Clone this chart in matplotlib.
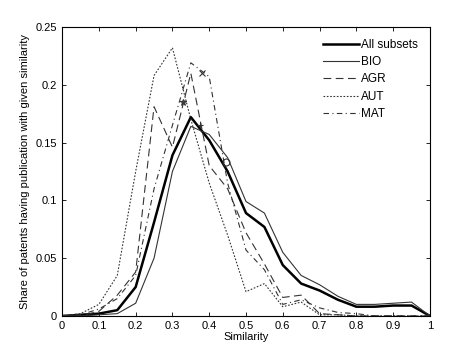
import matplotlib.pyplot as plt
import numpy as np

plt.rcParams['font.family'] = ['Liberation Sans', 'DejaVu Sans']

similarity = np.arange(0, 1.0001, 0.05)

all_subsets = [0, 0.001, 0.002, 0.005, 0.025, 0.081, 0.139, 0.172, 0.152, 0.125, 0.089,
               0.077, 0.044, 0.028, 0.022, 0.014, 0.008, 0.008, 0.009, 0.009, 0]
bio = [0, 0, 0.001, 0.002, 0.011, 0.05, 0.125, 0.164, 0.157, 0.137, 0.099,
       0.089, 0.055, 0.035, 0.027, 0.017, 0.01, 0.01, 0.011, 0.012, 0]
agr = [0, 0, 0.004, 0.018, 0.038, 0.181, 0.146, 0.21, 0.13, 0.11, 0.072,
       0.045, 0.016, 0.018, 0.002, 0.001, 0, 0, 0, 0, 0]
aut = [0, 0.002, 0.01, 0.035, 0.125, 0.208, 0.232, 0.17, 0.115, 0.07, 0.021,
       0.028, 0.008, 0.012, 0.001, 0.001, 0, 0, 0, 0, 0]
mat = [0, 0.001, 0.006, 0.015, 0.035, 0.11, 0.165, 0.219, 0.207, 0.115, 0.057,
       0.04, 0.01, 0.014, 0.007, 0.003, 0.002, 0, 0, 0, 0]

# mean markers
mean_x = [0.33, 0.38, 0.375, 0.446]
mean_y = [0.185, 0.21, 0.165, 0.133]
mean_mk = ['*', 'x', '+', 'o']

fig = plt.figure(figsize=(4.74, 3.55), dpi=100)
ax = fig.add_axes([0.131, 0.110, 0.776, 0.814])

ax.plot(similarity, all_subsets, color='black', lw=1.8, label='All subsets')
ax.plot(similarity, bio, color='#333333', lw=0.8, label='BIO')
ax.plot(similarity, agr, color='#333333', lw=0.8, dashes=(7, 4), label='AGR')
ax.plot(similarity, aut, color='#333333', lw=0.8, dashes=(1.5, 1.5), label='AUT')
ax.plot(similarity, mat, color='#333333', lw=0.8, dashes=(5, 3, 1, 3), label='MAT')

for mx, my, mk in zip(mean_x, mean_y, mean_mk):
    ax.plot(mx, my, marker=mk, color='#333333', ms=5, mfc='none', mew=0.8)

ax.set_xlim(0, 1)
ax.set_ylim(0, 0.25)
ax.set_xticks(np.arange(0, 1.01, 0.1))
ax.set_xticklabels(['0', '0.1', '0.2', '0.3', '0.4', '0.5', '0.6', '0.7', '0.8', '0.9', '1'])
ax.set_yticks([0, 0.05, 0.1, 0.15, 0.2, 0.25])
ax.set_yticklabels(['0', '0.05', '0.1', '0.15', '0.2', '0.25'])
ax.tick_params(direction='in', top=True, right=True, labelsize=8, length=3, width=0.6)
for s in ax.spines.values():
    s.set_linewidth(0.8)

ax.set_xlabel('Similarity', fontsize=8, labelpad=1)
ax.set_ylabel('Share of patents having publication with given similarity', fontsize=8, labelpad=4)

ax.legend(loc='upper right', frameon=False, fontsize=8.5, handlelength=3.0,
          handletextpad=0.2, labelspacing=0.45, borderaxespad=0.6)

fig.savefig('out.png', dpi=100)
